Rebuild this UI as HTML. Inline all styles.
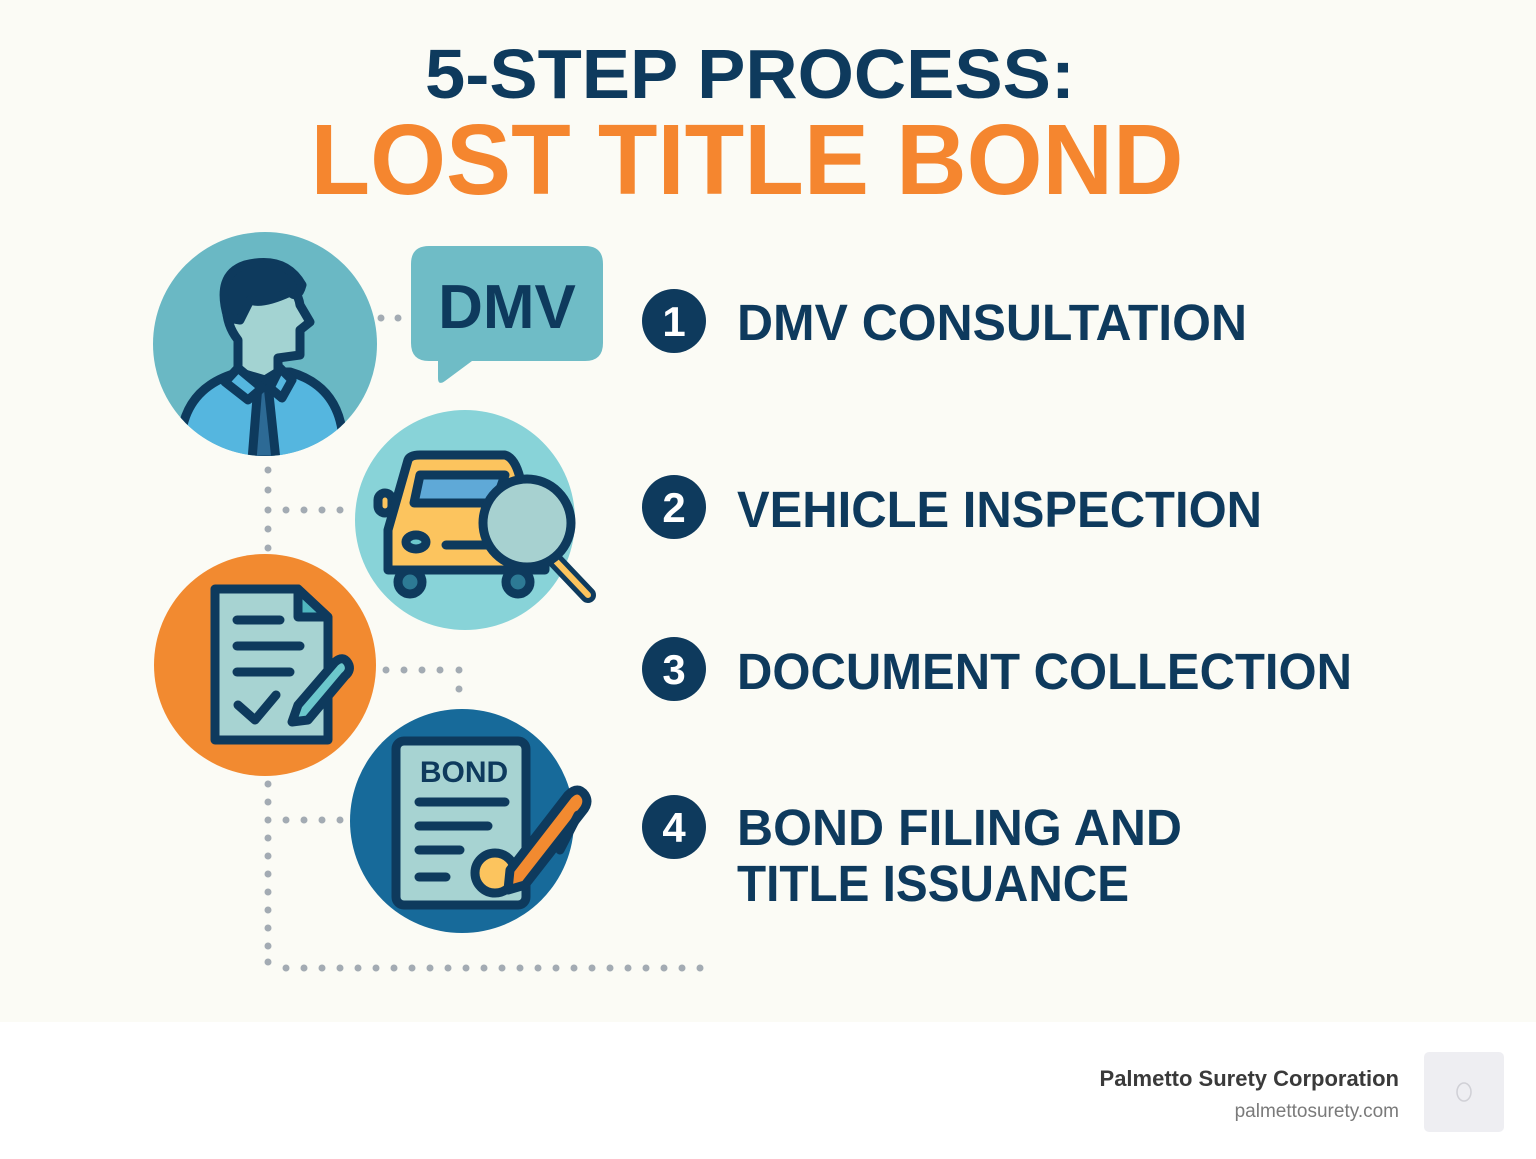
<!DOCTYPE html>
<html><head><meta charset="utf-8"><style>
html,body{margin:0;padding:0;}
body{width:1536px;height:1154px;overflow:hidden;background:#fff;font-family:"Liberation Sans",sans-serif;}
</style></head><body>
<svg width="1536" height="1154" viewBox="0 0 1536 1154" xmlns="http://www.w3.org/2000/svg">
<rect width="1536" height="1022" fill="#fbfbf5"/>
<rect y="1022" width="1536" height="132" fill="#ffffff"/>
<text x="750" y="98" text-anchor="middle" font-family="Liberation Sans" font-weight="bold" font-size="70" fill="#0e3a5d" textLength="650" lengthAdjust="spacingAndGlyphs">5-STEP PROCESS:</text>
<text x="747" y="194" text-anchor="middle" font-family="Liberation Sans" font-weight="bold" font-size="100" fill="#f5862f" textLength="873" lengthAdjust="spacingAndGlyphs">LOST TITLE BOND</text>

<g fill="#a3abb3">
<circle cx="381" cy="318" r="3.5"/><circle cx="398" cy="318" r="3.5"/>
<circle cx="268" cy="470" r="3.5"/><circle cx="268" cy="490" r="3.5"/><circle cx="268" cy="510" r="3.5"/><circle cx="268" cy="529" r="3.5"/><circle cx="268" cy="548" r="3.5"/>
<circle cx="286" cy="510" r="3.5"/><circle cx="304" cy="510" r="3.5"/><circle cx="322" cy="510" r="3.5"/><circle cx="340" cy="510" r="3.5"/>
<circle cx="386" cy="670" r="3.5"/><circle cx="404" cy="670" r="3.5"/><circle cx="422" cy="670" r="3.5"/><circle cx="440" cy="670" r="3.5"/><circle cx="459" cy="670" r="3.5"/><circle cx="459" cy="689" r="3.5"/>
<circle cx="286" cy="820" r="3.5"/><circle cx="304" cy="820" r="3.5"/><circle cx="322" cy="820" r="3.5"/><circle cx="340" cy="820" r="3.5"/>
</g>
<g fill="#a3abb3" id="v">
<circle cx="268" cy="784" r="3.5"/><circle cx="268" cy="802" r="3.5"/><circle cx="268" cy="820" r="3.5"/><circle cx="268" cy="838" r="3.5"/><circle cx="268" cy="856" r="3.5"/><circle cx="268" cy="874" r="3.5"/><circle cx="268" cy="892" r="3.5"/><circle cx="268" cy="910" r="3.5"/><circle cx="268" cy="928" r="3.5"/><circle cx="268" cy="946" r="3.5"/><circle cx="268" cy="962" r="3.5"/>
</g>
<g fill="#a3abb3">
<circle cx="286" cy="968" r="3.5"/><circle cx="304" cy="968" r="3.5"/><circle cx="322" cy="968" r="3.5"/><circle cx="340" cy="968" r="3.5"/><circle cx="358" cy="968" r="3.5"/><circle cx="376" cy="968" r="3.5"/><circle cx="394" cy="968" r="3.5"/><circle cx="412" cy="968" r="3.5"/><circle cx="430" cy="968" r="3.5"/><circle cx="448" cy="968" r="3.5"/><circle cx="466" cy="968" r="3.5"/><circle cx="484" cy="968" r="3.5"/><circle cx="502" cy="968" r="3.5"/><circle cx="520" cy="968" r="3.5"/><circle cx="538" cy="968" r="3.5"/><circle cx="556" cy="968" r="3.5"/><circle cx="574" cy="968" r="3.5"/><circle cx="592" cy="968" r="3.5"/><circle cx="610" cy="968" r="3.5"/><circle cx="628" cy="968" r="3.5"/><circle cx="646" cy="968" r="3.5"/><circle cx="664" cy="968" r="3.5"/><circle cx="682" cy="968" r="3.5"/><circle cx="700" cy="968" r="3.5"/>
</g>

<!-- person -->
<circle cx="265" cy="344" r="112" fill="#6ab8c4"/>
<clipPath id="c1"><circle cx="265" cy="344" r="112"/></clipPath>
<g clip-path="url(#c1)" stroke="#0e3a5d" stroke-width="9" stroke-linejoin="round">
<path d="M182 430 Q190 385 240 372 L265 372 L290 372 Q335 385 342 430 L342 470 L182 470 Z" fill="#55b6df"/>
<path d="M258 385 L268 385 L276 460 L252 460 Z" fill="#2d6a95"/>
<path d="M238 360 L238 340 Q222 320 228 290 Q245 268 280 275 Q298 290 300 305 L310 322 L300 330 L300 355 L278 358 L278 372 L265 380 L238 372 Z" fill="#a3d3d2"/>
<path d="M228 318 Q215 275 245 265 Q285 255 302 285 Q298 300 290 292 Q262 305 250 300 L240 320 Z" fill="#0e3a5d"/>
<path d="M238 368 L225 382 L248 400 L262 388 Z M280 368 L292 380 L282 398 L270 388 Z" fill="#55b6df"/>
</g>
<!-- DMV bubble -->
<path d="M429 246 H585 Q603 246 603 264 V343 Q603 361 585 361 H472 L445 381 Q438 386 438 378 V361 H429 Q411 361 411 343 V264 Q411 246 429 246 Z" fill="#6fbcc6"/>
<text x="507" y="328" text-anchor="middle" font-weight="bold" font-size="62" fill="#0e3a5d">DMV</text>

<!-- car -->
<circle cx="465" cy="520" r="110" fill="#88d3d8"/>
<g stroke="#0e3a5d" stroke-width="9" stroke-linejoin="round" stroke-linecap="round">
<circle cx="410" cy="582" r="12" fill="#2d7a95"/><circle cx="518" cy="582" r="12" fill="#2d7a95"/>
<rect x="378" y="493" width="14" height="20" rx="7" fill="#fcc45e"/>
<path d="M408 460 Q410 455 420 455 L505 455 Q515 458 520 478 L545 520 L545 570 L388 570 L388 530 Z" fill="#fcc45e"/>
<path d="M420 475 L505 475 L495 503 L414 503 Z" fill="#5fa9d7"/>
<ellipse cx="416" cy="542" rx="10" ry="7" fill="#6cc8cc"/>
<line x1="446" y1="545" x2="490" y2="545"/>
<line x1="550" y1="555" x2="588" y2="595" stroke-width="16"/>
<line x1="550" y1="555" x2="588" y2="595" stroke="#fcc45e" stroke-width="6"/>
<circle cx="527" cy="523" r="44" fill="#a7d1d0"/>
</g>

<!-- document -->
<circle cx="265" cy="665" r="111" fill="#f28a30"/>
<g stroke="#0e3a5d" stroke-width="9" stroke-linejoin="round" stroke-linecap="round">
<path d="M215 589 L298 589 L328 617 L328 740 L215 740 Z" fill="#a7d3d2"/>
<path d="M298 589 L298 617 L328 617 Z" fill="#4fb7bf"/>
<line x1="237" y1="620" x2="280" y2="620"/><line x1="237" y1="646" x2="300" y2="646"/><line x1="237" y1="672" x2="290" y2="672"/>
<path d="M238 705 L255 720 L276 695" fill="none"/>
<path d="M298 705 L335 662 Q343 655 348 663 Q352 670 345 676 L308 720 L292 722 Z" fill="#6cc8cc"/>
</g>

<!-- bond -->
<circle cx="462" cy="821" r="112" fill="#176a9a"/>
<g stroke="#0e3a5d" stroke-width="9" stroke-linejoin="round" stroke-linecap="round">
<rect x="396" y="741" width="130" height="164" rx="8" fill="#a7d3d2"/>
<line x1="419" y1="802" x2="505" y2="802"/><line x1="419" y1="826" x2="488" y2="826"/><line x1="419" y1="850" x2="460" y2="850"/><line x1="419" y1="877" x2="446" y2="877"/>
<circle cx="495" cy="873" r="20" fill="#fcc45e"/>
<path d="M510 870 L568 795 Q578 785 585 795 Q590 803 582 812 L525 885 L508 890 Z" fill="#f28a30"/>
<line x1="578" y1="815" x2="560" y2="850"/>
</g>
<text x="464" y="782" text-anchor="middle" font-weight="bold" font-size="30" fill="#0e3a5d">BOND</text>

<!-- numbers -->
<g fill="#0e3a5d">
<circle cx="674" cy="321" r="32"/><circle cx="674" cy="507" r="32"/><circle cx="674" cy="669" r="32"/><circle cx="674" cy="827" r="32"/>
</g>
<g fill="#fff" font-weight="bold" font-size="42" text-anchor="middle">
<text x="674" y="336">1</text><text x="674" y="522">2</text><text x="674" y="684">3</text><text x="674" y="842">4</text>
</g>
<g fill="#0e3a5d" font-weight="bold" font-size="51">
<text x="737" y="340" textLength="510" lengthAdjust="spacingAndGlyphs">DMV CONSULTATION</text>
<text x="737" y="527" textLength="525" lengthAdjust="spacingAndGlyphs">VEHICLE INSPECTION</text>
<text x="737" y="689" textLength="615" lengthAdjust="spacingAndGlyphs">DOCUMENT COLLECTION</text>
<text x="737" y="845" textLength="445" lengthAdjust="spacingAndGlyphs">BOND FILING AND</text>
<text x="737" y="901" textLength="392" lengthAdjust="spacingAndGlyphs">TITLE ISSUANCE</text>
</g>

<!-- footer -->
<text x="1399" y="1086" text-anchor="end" font-weight="bold" font-size="22" fill="#3a3a3a">Palmetto Surety Corporation</text>
<text x="1399" y="1117" text-anchor="end" font-size="19" fill="#7a7a7a">palmettosurety.com</text>
<rect x="1424" y="1052" width="80" height="80" rx="5" fill="#eeeef2"/>
<ellipse cx="1464" cy="1092" rx="7" ry="9" fill="none" stroke="#d0d0d6" stroke-width="1.5"/>
</svg>
</body></html>
